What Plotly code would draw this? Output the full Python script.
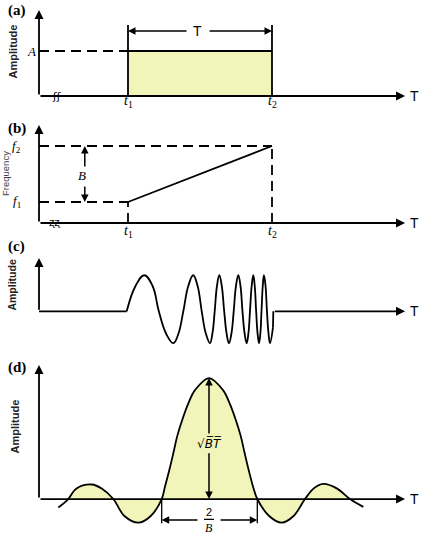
import plotly.graph_objects as go

# ---------------- data (time in units where t1 = 1, t2 = 2) ----------------
T_AXIS = 0.382          # time at which the vertical axes stand (after axis break)
T_END = 2.924           # time at which the horizontal axes end (arrow tip)
t1, t2 = 1.0, 2.0       # pulse start / end
A = 1.0                 # pulse amplitude
f1, f2 = 0.75, 2.75     # chirp start / end frequency

# (c) linear-FM waveform
chirp_t = [0.991, 1.053, 1.113, 1.170, 1.214, 1.265, 1.315, 1.350, 1.384, 1.419,
           1.453, 1.483, 1.512, 1.541, 1.569, 1.586, 1.602, 1.618, 1.634, 1.651,
           1.668, 1.685, 1.701, 1.718, 1.734, 1.750, 1.766, 1.781, 1.795, 1.810,
           1.824, 1.836, 1.847, 1.859, 1.870, 1.880, 1.890, 1.900, 1.910, 1.919,
           1.927, 1.936, 1.944, 1.955, 1.965, 1.976, 1.986, 2.007]
chirp_y = [0.0, 0.73, 1.03, 0.73, 0.0, -0.64, -0.91, -0.64, 0.0, 0.73,
           1.03, 0.73, 0.0, -0.64, -0.91, -0.64, 0.0, 0.73, 1.03, 0.73,
           0.0, -0.64, -0.91, -0.64, 0.0, 0.73, 1.03, 0.73, 0.0, -0.64,
           -0.91, -0.64, 0.0, 0.73, 1.03, 0.73, 0.0, -0.64, -0.91, -0.64,
           0.0, 0.73, 1.03, 0.73, 0.0, -0.64, -0.91, -0.45]

# (d) compressed pulse
sinc_t = [0.516, 0.585, 0.640, 0.748, 0.820, 0.898, 0.975, 1.072, 1.158, 1.234,
          1.257, 1.287, 1.315, 1.342, 1.377, 1.419, 1.465, 1.5625, 1.660, 1.706,
          1.748, 1.783, 1.810, 1.838, 1.868, 1.898, 1.980, 2.067, 2.150, 2.229,
          2.290, 2.356, 2.450, 2.542, 2.634]
sinc_y = [-0.07, 0.0, 0.085, 0.12, 0.085, 0.0, -0.14, -0.195, -0.14, 0.0,
          0.104, 0.24, 0.38, 0.52, 0.655, 0.79, 0.90, 1.0, 0.90, 0.79,
          0.655, 0.52, 0.38, 0.24, 0.104, 0.0, -0.14, -0.195, -0.14, 0.0,
          0.088, 0.125, 0.088, 0.0, -0.065]
peak_t = 1.5625
main_zeros = [1.234, 1.898]

FILL = "#f1f5b9"
BLACK = "black"

traces = []


def line(x, y, yaxis, dash=None, width=1.8, shape="linear", smoothing=1.0):
    ln = dict(color=BLACK, width=width, dash=dash, shape=shape)
    if shape == "spline":
        ln["smoothing"] = smoothing
    traces.append(go.Scatter(x=x, y=y, xaxis="x", yaxis=yaxis, mode="lines",
                             line=ln, hoverinfo="skip", showlegend=False))


def area(x, y, yaxis, fill, shape="linear", smoothing=1.0):
    ln = dict(color="rgba(0,0,0,0)", width=0, shape=shape)
    if shape == "spline":
        ln["smoothing"] = smoothing
    traces.append(go.Scatter(x=x, y=y, xaxis="x", yaxis=yaxis, mode="lines",
                             fill=fill, fillcolor=FILL, line=ln,
                             hoverinfo="skip", showlegend=False))


ann = []


def arrow(x, y, ax, ay, yref, width=1.8, size=1.0, head=2):
    ann.append(dict(x=x, y=y, ax=ax, ay=ay, xref="x", yref=yref, axref="x", ayref=yref,
                    text="", showarrow=True, arrowhead=head, arrowsize=size,
                    arrowwidth=width, arrowcolor=BLACK))


def text(x, y, s, yref, size=13, family="Liberation Sans", xref="x", angle=0,
         xanchor="center", yanchor="middle", bg=None, color=BLACK):
    d = dict(x=x, y=y, text=s, xref=xref, yref=yref, showarrow=False,
             font=dict(size=size, family=family, color=color), textangle=angle,
             xanchor=xanchor, yanchor=yanchor, borderpad=0)
    if bg:
        d["bgcolor"] = bg
    ann.append(d)


DASH = "10px,6px"
SERIF = "Liberation Serif"
T_LABEL_X = 2.993
SM_CHIRP = 1.2
SM_SINC = 1.0

# ---------------- panel (a): rectangular pulse ----------------
area([t1, t1, t2, t2], [0, A, A, 0], "y", "toself")
line([t1, t2], [A, A], "y")
line([t1, t1], [0, 1.578], "y")
line([t2, t2], [0, 1.578], "y")
line([T_AXIS, t1], [A, A], "y", dash=DASH)
arrow(T_AXIS, 1.911, T_AXIS, 0, "y")
arrow(T_END, 0, T_AXIS, 0, "y")
arrow(t1, 1.444, 1.417, 1.444, "y", width=1.5)
arrow(t2, 1.444, 1.556, 1.444, "y", width=1.5)
text(1.486, 1.444, "T", "y", size=14)
text(T_LABEL_X, 0, "T", "y", size=14)
text(0.368, A, "<i>A</i>", "y", size=13, family=SERIF, xanchor="right")
text(t1, -0.13, "<i>t</i><sub>1</sub>", "y", size=14, family=SERIF)
text(t2, -0.13, "<i>t</i><sub>2</sub>", "y", size=14, family=SERIF)
text(0.50, 0, "ʃʃ", "y", size=11, family="DejaVu Sans")
text(7 / 425, 1.91, "<b>(a)</b>", "y", size=15, family=SERIF, xref="paper", xanchor="left")
text(12.5 / 425, 0.98, "<b>Amplitude</b>", "y", size=11, xref="paper", angle=-90, color="#222")

# ---------------- panel (b): frequency vs time ----------------
line([T_AXIS, t2], [f2, f2], "y2", dash=DASH)
line([T_AXIS, t1], [f1, f1], "y2", dash=DASH)
line([t1, t1], [0, f1], "y2", dash=DASH)
line([t2, t2], [0, f2], "y2", dash=DASH)
line([t1, t2], [f1, f2], "y2")
arrow(T_AXIS, 3.5, T_AXIS, 0, "y2")
arrow(T_END, 0, T_AXIS, 0, "y2")
arrow(0.70, f2, 0.70, 1.96, "y2", width=1.5)
arrow(0.70, f1, 0.70, 1.36, "y2", width=1.5)
text(0.681, 1.68, "<i>B</i>", "y2", size=13, family=SERIF)
text(T_LABEL_X, 0, "T", "y2", size=14)
text(16.5 / 425, f2, "<i>f</i><sub>2</sub>", "y2", size=13, family=SERIF, xref="paper")
text(16.5 / 425, f1, "<i>f</i><sub>1</sub>", "y2", size=13, family=SERIF, xref="paper")
text(t1, -0.32, "<i>t</i><sub>1</sub>", "y2", size=14, family=SERIF)
text(t2, -0.32, "<i>t</i><sub>2</sub>", "y2", size=14, family=SERIF)
text(0.49, 0, "ʐʐ", "y2", size=10, family="DejaVu Sans")
text(7 / 425, 3.39, "<b>(b)</b>", "y2", size=15, family=SERIF, xref="paper", xanchor="left")
text(5 / 425, 1.75, "Frequency", "y2", size=9.5, xref="paper", angle=-90, color="#444")

# ---------------- panel (c): chirp waveform ----------------
line([T_AXIS, chirp_t[0]], [0, 0], "y3")
line(chirp_t, chirp_y, "y3", shape="spline", smoothing=SM_CHIRP)
line([chirp_t[-1], chirp_t[-1] + 0.002], [chirp_y[-1], 0], "y3")
arrow(T_AXIS, 1.52, T_AXIS, 0, "y3")
arrow(T_END, 0, chirp_t[-1] + 0.002, 0, "y3")
text(T_LABEL_X, 0, "T", "y3", size=14)
text(7 / 425, 1.84, "<b>(c)</b>", "y3", size=15, family=SERIF, xref="paper", xanchor="left")
text(12.5 / 425, 0.75, "<b>Amplitude</b>", "y3", size=10.5, xref="paper", angle=-90, color="#222")

# ---------------- panel (d): compressed pulse ----------------
i0, i1 = 1, len(sinc_t) - 1
area(sinc_t[i0:i1], sinc_y[i0:i1], "y4", "tozeroy", shape="spline", smoothing=SM_SINC)
arrow(T_END, 0, T_AXIS, 0, "y4")
line(sinc_t, sinc_y, "y4", shape="spline", smoothing=SM_SINC)
arrow(T_AXIS, 1.107, T_AXIS, 0, "y4")
arrow(peak_t, 1.0, peak_t, 0.53, "y4", width=1.5)
arrow(peak_t, 0.0, peak_t, 0.39, "y4", width=1.5)
text(peak_t, 0.46, "<i>√B̅T̅</i>", "y4", size=12, family="DejaVu Sans", bg=FILL)
for z in main_zeros:
    line([z, z], [0, -0.2], "y4", width=1.3)
arrow(main_zeros[0], -0.174, 1.493, -0.174, "y4", width=1.5)
arrow(main_zeros[1], -0.174, 1.632, -0.174, "y4", width=1.5)
line([1.528, 1.597], [-0.168, -0.168], "y4", width=1.3)
text(peak_t, -0.105, "2", "y4", size=11)
text(peak_t, -0.238, "<i>B</i>", "y4", size=12, family=SERIF)
text(T_LABEL_X, 0, "T", "y4", size=14)
text(7 / 425, 1.09, "<b>(d)</b>", "y4", size=15, family=SERIF, xref="paper", xanchor="left")
text(15 / 425, 0.6, "<b>Amplitude</b>", "y4", size=11, xref="paper", angle=-90, color="#222")

fig = go.Figure(traces)
ax_common = dict(visible=False, showgrid=False, zeroline=False, fixedrange=True)
fig.update_layout(
    width=425, height=534,
    margin=dict(l=0, r=0, t=0, b=0),
    paper_bgcolor="white", plot_bgcolor="white",
    showlegend=False,
    xaxis=dict(range=[0.1111, 3.0625], domain=[0, 1], **ax_common),
    yaxis=dict(domain=[0.7846, 1.0], range=[-0.4222, 2.1333], anchor="x", **ax_common),
    yaxis2=dict(domain=[0.5506, 0.7846], range=[-0.607, 3.857], anchor="x", **ax_common),
    yaxis3=dict(domain=[0.3258, 0.5506], range=[-1.391, 2.037], anchor="x", **ax_common),
    yaxis4=dict(domain=[0.0, 0.3258], range=[-0.289, 1.149], anchor="x", **ax_common),
    annotations=ann,
)
fig.write_html("out.html", config={"displayModeBar": False},
               post_script="document.body.style.margin='0';document.body.style.overflow='hidden';")
